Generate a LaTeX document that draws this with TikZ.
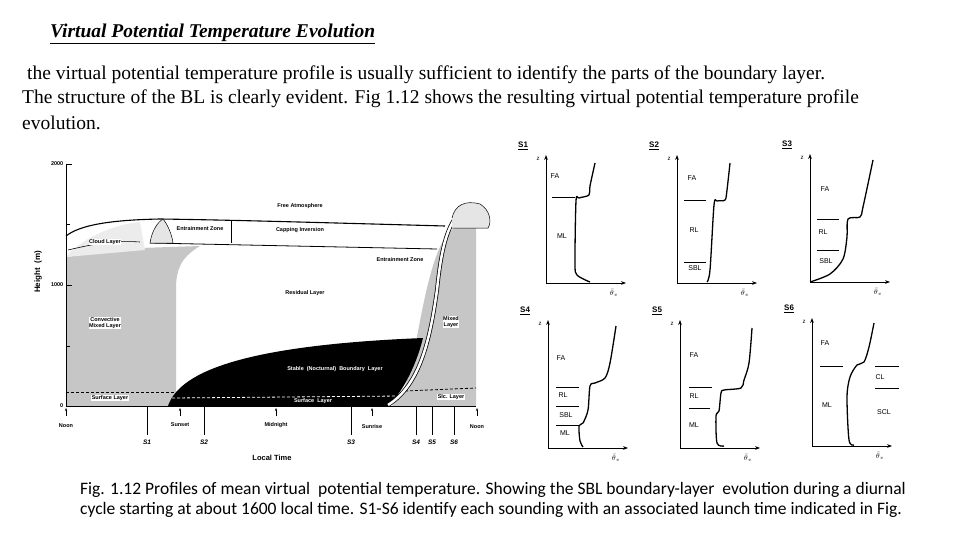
\documentclass[tikz,border=0pt]{standalone}
\usepackage{fontspec}
\setmainfont{Liberation Serif}
\newfontfamily\capfont{Carlito}
\newfontfamily\diafont{Liberation Sans}
\usetikzlibrary{arrows.meta}
\tikzset{
 lab/.style={font=\diafont\fontsize{5.5}{6}\selectfont\bfseries, inner sep=0.5pt},
 plab/.style={font=\diafont\fontsize{7}{8}\selectfont, inner sep=0pt},
 prof/.style={line width=1.3pt, line join=round},
 axline/.style={line width=1pt, -{Stealth[length=5pt]}},
 tickl/.style={line width=1pt},
 body/.style={font=\fontsize{19.5}{22}\selectfont, anchor=west, inner sep=0pt},
}
\newcommand\profaxes[1]{%
  \coordinate (o#1) at (0,0);
  \coordinate (zt#1) at (0,128);
  \coordinate (xr#1) at (80,0);
  \draw[axline] (o#1) -- (zt#1);
  \draw[axline] (o#1) -- (xr#1);
  \node[plab, font=\diafont\fontsize{6}{7}\selectfont] (z#1) at (-8,124) {z};
  \node[plab] (th#1) at (68,-10) {$\bar\theta_{\scriptscriptstyle v}$};
  \node[plab, font=\diafont\fontsize{8}{9}\selectfont\bfseries, anchor=west] (t#1) at (-28,137) {\underline{#1}};
}
\begin{document}
\begin{tikzpicture}[x=1pt,y=-1pt]
\useasboundingbox (0,0) rectangle (960,540);
\fill[white] (0,0) rectangle (960,540);
% texts
\node[anchor=west, inner sep=0pt, font=\fontsize{19.5}{22}\selectfont\bfseries\itshape] (title) at (50,34) {\underline{Virtual Potential Temperature Evolution}};
\node[body] (l1) at (27,75) {the virtual potential temperature profile is usually sufficient to identify the parts of the boundary layer.};
\node[body] (l2) at (22,99) {The structure of the BL is clearly evident. Fig 1.12 shows the resulting virtual potential temperature profile};
\node[body] (l3) at (22,123) {evolution.};
\node[anchor=west, inner sep=0pt, font=\capfont\fontsize{17.5}{20}\selectfont] (c1) at (80,490) {Fig. 1.12 Profiles of mean virtual\ \ potential temperature. Showing the SBL boundary-layer\ \ evolution during a diurnal};
\node[anchor=west, inner sep=0pt, font=\capfont\fontsize{17.5}{20}\selectfont] (c2) at (80,510) {cycle starting at about 1600 local time. S1-S6 identify each sounding with an associated launch time indicated in Fig.};
% ===== left diagram =====
\fill[gray!45] (66,257) -- (140,248) -- (200,246) .. controls (180,258) and (176,270) .. (176,290) -- (176,406) -- (66,406) -- cycle;
\fill[gray!15] (66,257) .. controls (80,240) and (110,225) .. (140,222) -- (145,250) -- cycle;
\draw[line width=0.6pt] (68,250) .. controls (90,245) and (110,240) .. (140,242);
\fill[gray!45] (476,228) -- (455,228) .. controls (430,240) and (420,330) .. (410,370) .. controls (405,390) and (398,400) .. (392,406) -- (476,406) -- cycle;
\fill[black] (168,406) .. controls (180,370) and (250,345) .. (423,338) .. controls (415,370) and (400,395) .. (388,406) -- cycle;
\draw[densely dashed, line width=0.8pt] (66,392) -- (176,392);
\draw[densely dashed, line width=0.8pt] (405,391) -- (476,388);
\draw[densely dashed, white, line width=0.8pt] (172,398) -- (400,396);
\draw[line width=1.1pt] (66,236) .. controls (80,225) and (110,220) .. (160,219) .. controls (230,220) and (300,222) .. (445,226);
\draw[line width=0.8pt] (150,243) -- (437,249);
\draw[line width=0.8pt] (231,220) -- (231,243);
\fill[gray!20] (150,243) .. controls (152,230) and (158,222) .. (163,219) .. controls (168,225) and (172,235) .. (173,243) -- cycle;
\draw[line width=0.5pt] (150,243) .. controls (152,230) and (158,222) .. (163,219) .. controls (168,225) and (172,235) .. (173,243) -- cycle;
\draw[line width=4pt] (388,405) .. controls (420,385) and (430,340) .. (437,290) .. controls (442,240) and (450,215) .. (470,205);
\draw[white, line width=2.5pt] (388,405) .. controls (420,385) and (430,340) .. (437,290) .. controls (442,240) and (450,215) .. (470,205);
\fill[gray!20] (452,218) .. controls (455,205) and (465,200) .. (480,204) .. controls (490,210) and (492,222) .. (488,228) -- (452,228) -- cycle;
\draw[line width=0.5pt] (452,218) .. controls (455,205) and (465,200) .. (480,204) .. controls (490,210) and (492,222) .. (488,228) -- (452,228);
\draw[line width=0.8pt] (66,164) -- (66,406) -- (476,406);
\draw[line width=0.8pt] (66,164) -- (72,164) (66,224) -- (70,224) (66,285) -- (72,285) (66,346) -- (70,346);
\node[lab, anchor=east] (y2000) at (64,164) {2000};
\node[lab, anchor=east] (y1000) at (64,285) {1000};
\node[lab, anchor=east] (y0) at (64,406) {0};
\node[font=\diafont\fontsize{8}{9}\selectfont\bfseries, rotate=90] (ylab) at (38,272) {Height\ \ (m)};
\node[lab] (fa) at (300,206) {Free Atmosphere};
\node[lab] (ez1) at (200,229) {Entrainment Zone};
\node[lab] (ci) at (300,230) {Capping Inversion};
\node[lab, fill=white] (cl) at (105,242) {Cloud Layer};
\node[lab] (ez2) at (400,260) {Entrainment Zone};
\node[lab] (rl) at (305,293) {Residual Layer};
\node[lab, fill=white, align=center] (cml) at (105,323) {Convective\\Mixed Layer};
\node[lab, fill=white, align=center] (mlr) at (451,322) {Mixed\\Layer};
\node[lab, text=white] (sbl) at (335,369) {Stable\ \ (Nocturnal)\ \ Boundary\ \ Layer};
\node[lab, fill=white] (sl1) at (110,398) {Surface Layer};
\node[lab, text=white] (sl2) at (313,401) {Surface\ \ Layer};
\node[lab, fill=white] (sl3) at (451,397) {Slc. Layer};
\draw[tickl, -{Stealth[length=3pt]}] (66,416) -- (66,408);
\draw[tickl, -{Stealth[length=3pt]}] (180,416) -- (180,408);
\draw[tickl, -{Stealth[length=3pt]}] (276,416) -- (276,408);
\draw[tickl, -{Stealth[length=3pt]}] (372,416) -- (372,408);
\draw[tickl, -{Stealth[length=3pt]}] (477,416) -- (477,408);
\node[lab] (t1) at (66,426) {Noon};
\node[lab] (t2) at (180,425) {Sunset};
\node[lab] (t3) at (276,425) {Midnight};
\node[lab] (t4) at (372,427) {Sunrise};
\node[lab] (t5) at (477,427) {Noon};
\foreach \x/\n in {147/S1,204/S2,351/S3,416/S4,432/S5,454/S6}{
 \draw[tickl] (\x,406) -- (\x,435);
 \node[lab, font=\diafont\fontsize{6.5}{7}\selectfont\bfseries\itshape] (l\n) at (\x,442) {\n};
}
\node[font=\diafont\fontsize{7.5}{9}\selectfont\bfseries] (lt) at (272,458) {Local Time};
% ===== profiles =====
\begin{scope}[shift={(546,283)}, y=1pt]
 \profaxes{S1}
 \draw[prof] plot[smooth] coordinates {(44,1) (31,8) (29,20) (30,82) (33,85) (43,88) (44,97) (49,120)};
 \draw[line width=0.8pt] (6,86) -- (29,86);
 \node[plab] (fa1) at (9,107) {FA}; \node[plab] (ml1) at (16,47) {ML};
\end{scope}
\begin{scope}[shift={(677,283)}, y=1pt]
 \profaxes{S2}
 \draw[prof] plot[smooth] coordinates {(30,1) (33,13) (37,78) (40,82) (48,83) (50,93) (53,120)};
 \draw[line width=0.8pt] (7,83) -- (29,83) (7,21) -- (29,21);
 \node[plab] (fa2) at (15,105) {FA}; \node[plab] (rl2) at (17,53) {RL}; \node[plab] (sb2) at (18,15) {SBL};
\end{scope}
\begin{scope}[shift={(810,282)}, y=1pt]
 \profaxes{S3}
 \draw[prof] plot[smooth] coordinates {(0,0) (20,8) (33,23) (37,45) (38,63) (50,65) (53,75) (63,122)};
 \draw[line width=0.8pt] (7,63) -- (29,63) (7,32) -- (29,32);
 \node[plab] (fa3) at (15,93) {FA}; \node[plab] (rl3) at (13,50) {RL}; \node[plab] (sb3) at (16,21) {SBL};
\end{scope}
\begin{scope}[shift={(548,448)}, y=1pt]
 \profaxes{S4}
 \draw[prof] plot[smooth] coordinates {(35,1) (32,7) (31,22) (35,25) (40,38) (42,62) (47,65) (57,70) (62,85) (68,122)};
 \draw[line width=0.8pt] (8,61) -- (31,61) (8,23) -- (31,23);
 \draw[line width=0.5pt] (8,42) -- (31,42);
 \node[plab] (fa4) at (13,90) {FA}; \node[plab] (rl4) at (15,53) {RL}; \node[plab] (sb4) at (18,33) {SBL}; \node[plab] (ml4) at (17,15) {ML};
\end{scope}
\begin{scope}[shift={(680,448)}, y=1pt]
 \profaxes{S5}
 \draw[prof] plot[smooth] coordinates {(44,2) (37,5) (36,32) (39,37) (41,55) (44,58) (61,60) (64,68) (69,85) (72,120)};
 \draw[line width=0.8pt] (9,61) -- (32,61); \draw[line width=0.6pt] (9,40) -- (30,40);
 \node[plab] (fa5) at (14,93) {FA}; \node[plab] (rl5) at (14,52) {RL}; \node[plab] (ml5) at (14,23) {ML};
\end{scope}
\begin{scope}[shift={(812,446)}, y=1pt]
 \profaxes{S6}
 \draw[prof] plot[smooth] coordinates {(42,1) (37,6) (35,49) (38,69) (45,81) (52,84) (57,99) (62,123)};
 \draw[line width=0.8pt] (8,80) -- (31,80) (63,80) -- (87,80) (63,58) -- (87,58);
 \node[plab] (fa6) at (13,103) {FA}; \node[plab] (ml6) at (15,41) {ML}; \node[plab] (cl6) at (68,69) {CL}; \node[plab] (sc6) at (72,34) {SCL};
\end{scope}
\end{tikzpicture}
\end{document}
